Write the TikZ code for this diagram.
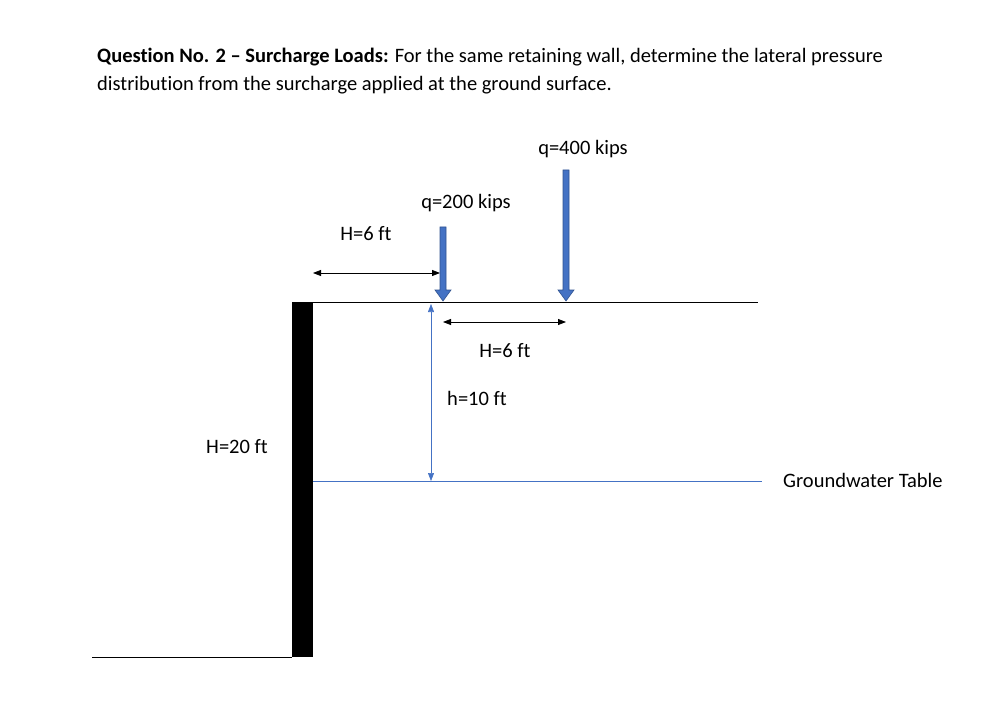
\documentclass[tikz,border=0pt]{standalone}
\usepackage{fontspec}
\setmainfont[Ligatures=NoCommon]{Carlito}
\usetikzlibrary{arrows.meta}
\definecolor{blu}{HTML}{4472C4}
\definecolor{bludk}{HTML}{2F528F}
\begin{document}
\begin{tikzpicture}[x=1pt,y=-1pt,
  lbl/.style={inner sep=0pt,font=\fontsize{20.5}{24}\selectfont},
  dim/.style={{Triangle[width=6pt,length=8pt]}-{Triangle[width=6pt,length=8pt]},line width=0.8pt},
  load/.style={fill=blu,draw=bludk,line width=0.6pt}]
\useasboundingbox (0,0) rectangle (987,711);
\node[anchor=west,inner sep=0pt,align=left,font=\fontsize{20.5}{28}\selectfont] (title) at (97,71)
 {\textbf{Question No. 2 – Surcharge Loads:} For the same retaining wall, determine the lateral pressure\\distribution from the surcharge applied at the ground surface.};
% wall
\fill[black] (292,302) rectangle (313,657);
\coordinate (gl0) at (313,302); \coordinate (gl1) at (758,302);
\draw[line width=0.8pt] (gl0) -- (gl1);
\coordinate (bl0) at (92,657); \coordinate (bl1) at (292,657);
\draw[line width=0.8pt] (bl0) -- (bl1);
\coordinate (gw0) at (313,481); \coordinate (gw1) at (762,481);
\draw[blu,line width=0.8pt] (gw0) -- (gw1);
\node[lbl,anchor=west] (gwt) at (783,480) {Groundwater Table};
\node[lbl] (h20) at (237,447) {H=20 ft};
% top dim
\coordinate (d1a) at (313,273); \coordinate (d1b) at (440,273);
\draw[dim] (d1a) -- (d1b);
\node[lbl] (h6a) at (366,234) {H=6 ft};
% loads
\filldraw[load] (440,227) -- (446,227) -- (446,290) -- (451,290) -- (443,301) -- (435,290) -- (440,290) -- cycle;
\node[lbl] (q200) at (466,203) {q=200 kips};
\filldraw[load] (563,170) -- (569,170) -- (569,290) -- (574,290) -- (566,301) -- (558,290) -- (563,290) -- cycle;
\node[lbl] (q400) at (583,149) {q=400 kips};
% second dim
\coordinate (d2a) at (443,322); \coordinate (d2b) at (566,322);
\draw[dim] (d2a) -- (d2b);
\node[lbl] (h6b) at (505,351) {H=6 ft};
% vertical
\coordinate (v0) at (431,304); \coordinate (v1) at (431,481);
\draw[blu,line width=0.6pt,{Triangle[width=6pt,length=8pt]}-{Triangle[width=6pt,length=8pt]}] (v0) -- (v1);
\node[lbl] (h10) at (477,398) {h=10 ft};
\end{tikzpicture}
\end{document}
